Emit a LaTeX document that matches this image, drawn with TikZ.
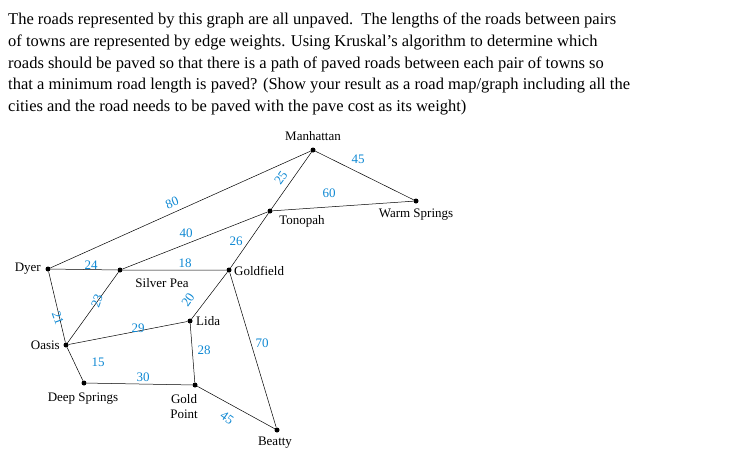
\documentclass[tikz,border=0pt]{standalone}
\usepackage{fontspec}
\setmainfont{Liberation Serif}
\begin{document}
\begin{tikzpicture}[x=1pt,y=-1pt,
  town/.style={circle,fill=black,inner sep=0pt,minimum size=5pt},
  lbl/.style={font=\fontsize{13}{13}\selectfont,inner sep=1pt},
  wt/.style={font=\fontsize{13}{13}\selectfont,text=cyan!70!blue,inner sep=1pt},
  txt/.style={font=\fontsize{16.5}{16.5}\selectfont,anchor=west,inner sep=0pt},
  road/.style={black,line width=0.5pt}]
\useasboundingbox (0,0) rectangle (746,463);
\node[txt] (l1) at (8,20) {The roads represented by this graph are all unpaved.\ \ The lengths of the roads between pairs};
\node[txt] (l2) at (8,42) {of towns are represented by edge weights. Using Kruskal's algorithm to determine which};
\node[txt] (l3) at (8,64) {roads should be paved so that there is a path of paved roads between each pair of towns so};
\node[txt] (l4) at (8,86) {that a minimum road length is paved? (Show your result as a road map/graph including all the};
\node[txt] (l5) at (8,108) {cities and the road needs to be paved with the pave cost as its weight)};
\node[town] (M) at (313,150) {};
\node[town] (T) at (270,211) {};
\node[town] (W) at (416,201) {};
\node[town] (D) at (48,269) {};
\node[town] (S) at (120,270) {};
\node[town] (G) at (229,270) {};
\node[town] (L) at (190,321) {};
\node[town] (O) at (66,345) {};
\node[town] (DS) at (84,383) {};
\node[town] (GP) at (195,385) {};
\node[town] (B) at (277,430) {};
\node[lbl] (tM) at (313,136) {Manhattan};
\node[lbl] (tT) at (302,221) {Tonopah};
\node[lbl] (tW) at (416,215) {Warm Springs};
\node[lbl,anchor=east] (tD) at (42,269) {Dyer};
\node[lbl] (tS) at (162,283) {Silver Pea};
\node[lbl,anchor=west] (tG) at (233,271) {Goldfield};
\node[lbl,anchor=west] (tL) at (195,321) {Lida};
\node[lbl,anchor=east] (tO) at (61,345) {Oasis};
\node[lbl] (tDS) at (83,399) {Deep Springs};
\node[lbl,align=center] (tGP) at (184,407) {Gold\\[2pt]Point};
\node[lbl] (tB) at (275,443) {Beatty};
\draw[road] (D)--(M) (M)--(T) (M)--(W) (T)--(W) (S)--(T) (T)--(G) (D)--(S) (S)--(G)
 (G)--(L) (G)--(B) (D)--(O) (S)--(O) (O)--(L) (L)--(GP) (O)--(DS) (DS)--(GP) (GP)--(B);
\node[wt,rotate=22] (w80) at (172,203) {80};
\node[wt,rotate=55] (w25) at (281,178) {25};
\node[wt] (w45a) at (358,159) {45};
\node[wt] (w60) at (329,193) {60};
\node[wt] (w40) at (186,233) {40};
\node[wt] (w26) at (236,241) {26};
\node[wt] (w24) at (91,265) {24};
\node[wt] (w18) at (185,263) {18};
\node[wt,rotate=55] (w20) at (188,300) {20};
\node[wt] (w70) at (262,343) {70};
\node[wt,rotate=-70] (w21) at (58,318) {21};
\node[wt,rotate=70] (w23) at (97,301) {23};
\node[wt] (w29) at (138,328) {29};
\node[wt] (w28) at (204,350) {28};
\node[wt] (w15) at (98,362) {15};
\node[wt] (w30) at (143,377) {30};
\node[wt,rotate=-35] (w45b) at (227,418) {45};
\end{tikzpicture}
\end{document}
